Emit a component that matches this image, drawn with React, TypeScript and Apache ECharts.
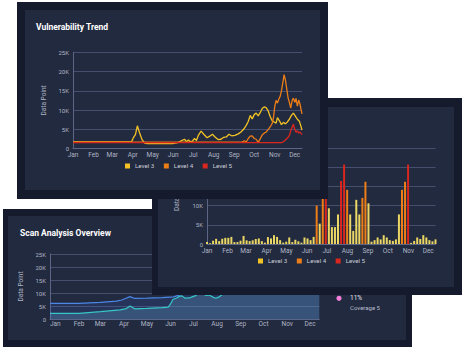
import React, { useEffect, useRef } from "react";
import * as echarts from "echarts";

const FONT = "Roboto, 'Noto Sans', sans-serif";
const BG_OUTER = "#151b2d";
const BG_INNER = "#222a3f";
const AXIS_LINE = "#5b6585";
const GRID_LINE = "#464f6d";
const AXIS_TEXT = "#aeb4c4";
const LEGEND_TEXT = "#c9cdd8";

const MONTHS = ["Jan", "Feb", "Mar", "Apr", "May", "Jun", "Jul", "Aug", "Sep", "Oct", "Nov", "Dec"];
const MONTH_START_DAYS = [0, 31, 59, 90, 120, 151, 181, 212, 243, 273, 304, 334];
const LAST_DAY = 345;

const LEVELS = ["Level 3", "Level 4", "Level 5"];
const LEVEL_COLORS = ["#f3c224", "#ec7d17", "#d9261f"];
const LEVEL3_BAR_COLOR = "#ead764";

// Panel 1: Vulnerability Trend — [day of year, value in K]
const TREND_LEVEL3: [number, number][] = [
  [0, 1.7], [88, 1.7], [91, 2.8], [94, 3.6], [97, 5.9], [100, 4.2], [104, 2.3], [108, 1.4], [112, 1.3],
  [150, 1.3], [158, 1.5], [163, 2.0], [168, 2.4], [171, 1.8], [174, 2.2], [177, 1.7], [180, 1.9],
  [183, 2.6], [186, 2.1], [189, 3.5], [193, 4.5], [197, 3.7], [202, 2.8], [206, 3.2], [210, 3.7],
  [214, 3.0], [219, 2.3], [223, 2.4], [227, 2.9], [231, 3.0], [235, 3.7], [239, 3.3], [244, 3.4],
  [249, 3.8], [253, 4.3], [257, 5.0], [261, 6.0], [264, 7.0], [267, 8.6], [270, 7.7], [273, 8.8],
  [276, 9.2], [279, 8.5], [282, 9.3], [285, 10.4], [288, 10.8], [291, 10.6], [294, 9.8], [297, 8.3],
  [300, 7.2], [303, 6.9], [306, 6.6], [308, 8.0], [311, 7.2], [314, 6.2], [317, 6.8], [320, 6.4],
  [323, 6.9], [326, 7.6], [329, 8.6], [332, 9.2], [335, 8.4], [338, 7.6], [341, 7.1], [343, 6.0],
  [345, 4.8],
];
const TREND_LEVEL4: [number, number][] = [
  [0, 1.65], [255, 1.65], [258, 2.0], [261, 1.7], [264, 2.6], [267, 3.2], [270, 3.3], [273, 2.6],
  [276, 2.4], [279, 1.6], [282, 2.5], [285, 3.5], [288, 4.0], [291, 4.3], [294, 4.9], [297, 5.6],
  [300, 6.5], [302, 8.0], [304, 11.0], [306, 12.5], [308, 11.8], [310, 12.8], [312, 13.5],
  [314, 15.0], [316, 17.0], [318, 19.2], [320, 17.8], [322, 15.5], [324, 13.2], [326, 12.0],
  [328, 10.5], [330, 12.4], [332, 13.1], [334, 12.0], [336, 13.0], [338, 11.0], [340, 12.6],
  [342, 11.5], [344, 9.8], [345, 9.0],
];
const TREND_LEVEL5: [number, number][] = [
  [0, 1.55], [315, 1.55], [318, 1.9], [321, 2.4], [324, 2.9], [326, 3.4], [328, 4.6], [330, 5.5],
  [332, 6.3], [334, 5.0], [336, 4.2], [338, 4.6], [340, 4.0], [342, 4.3], [345, 3.6],
];

// Panel 2: bar chart — one bar per slot, value in K and its level
const BAR_VALUES = [
  0.5, 0.2, 0.85, 1.35, 0.75, 1.35, 1.6, 1.6, 1.85, 0.5,
  0.5, 0.85, 2.1, 0.95, 0.75, 0.95, 1.3, 1.45, 0.75, 0.35,
  1.8, 1.45, 2.3, 1.85, 1.0, 0.35, 0.6, 1.7, 0.5, 1.1,
  0.7, 0.35, 1.7, 1.45, 1.0, 1.85,
  10, 5.3, 17, 21, 9.3, 4.4, 4.4, 7.7, 16.4, 20.7, 14.1, 7.7, 3.4, 11.5, 7.7, 12, 16.2, 10.6,
  0.6, 1.0, 1.7, 1.2, 2.3, 1.7, 1.0, 0.8, 1.2,
  7.7, 14.1, 16.2, 20.7,
  0.3, 0.8, 1.7, 1.3, 2.3, 1.7, 1.0, 0.7, 1.2,
];
const BAR_LEVELS = [
  3, 3, 3, 3, 3, 3, 3, 3, 3, 3,
  3, 3, 3, 3, 3, 3, 3, 3, 3, 3,
  3, 3, 3, 3, 3, 3, 3, 3, 3, 3,
  3, 3, 3, 3, 3, 3,
  4, 3, 4, 5, 3, 3, 3, 3, 5, 5, 4, 3, 3, 3, 3, 4, 4, 3,
  3, 3, 3, 3, 3, 3, 3, 3, 3,
  3, 4, 4, 5,
  3, 3, 3, 3, 3, 3, 3, 3, 3,
];
// y tick labels of the bar panel that lie under the trend panel are not shown
const BAR_HIDDEN_TICKS = [15, 20, 25];

// Panel 3: Scan Analysis Overview — [day of year, value in K]
const SCAN_FIRST_DAY = -7;
const SCAN_LAST_DAY = 346;
const SCAN_BLUE: [number, number][] = [
  [-7, 6.0], [31, 6.0], [59, 6.4], [80, 6.9], [87, 7.3], [92, 7.9], [98, 8.6], [104, 7.9],
  [120, 8.0], [140, 8.2], [155, 8.5], [162, 9.2], [170, 10.5], [190, 11.3], [220, 12.0],
  [260, 12.6], [300, 13.2], [346, 13.8],
];
const SCAN_CYAN: [number, number][] = [
  [-7, 2.2], [31, 2.2], [59, 2.8], [85, 3.5], [93, 4.0], [98, 5.0], [104, 3.9], [120, 4.1],
  [140, 4.4], [148, 4.6], [151, 5.8], [154, 7.5], [159, 8.1], [163, 8.8], [166, 8.9], [170, 8.0],
  [176, 8.1], [180, 8.6], [184, 9.0], [188, 9.8], [193, 9.6], [198, 9.1], [202, 9.2], [206, 8.5],
  [210, 8.0], [214, 8.4], [218, 9.2], [222, 10.2], [240, 10.8], [270, 11.2], [300, 11.6], [346, 12.0],
];
const SCAN_LEGEND_PCT = "11%";
const SCAN_LEGEND_NAME = "Coverage 5";

function dayCategories(first: number, last: number): string[] {
  const cats: string[] = [];
  for (let d = first; d <= last; d++) cats.push(String(d));
  return cats;
}

function monthLabel(v: string): string {
  const i = MONTH_START_DAYS.indexOf(Number(v));
  return i >= 0 ? MONTHS[i] : "";
}

function dayAxis(first: number, last: number, margin: number) {
  return {
    type: "category",
    data: dayCategories(first, last),
    boundaryGap: false,
    axisLine: { show: true, lineStyle: { color: AXIS_LINE, width: 1 } },
    axisTick: { show: false },
    splitLine: { show: false },
    axisLabel: {
      color: AXIS_TEXT,
      fontSize: 6.5,
      fontFamily: FONT,
      margin,
      interval: (_i: number, v: string) => MONTH_START_DAYS.includes(Number(v)),
      formatter: monthLabel,
    },
  };
}

function valueAxis(nameGap: number, labelMargin: number, hidden: number[] = []) {
  return {
    type: "value",
    min: 0,
    max: 25,
    interval: 5,
    name: "Data Point",
    nameLocation: "middle",
    nameGap,
    nameRotate: 90,
    nameTextStyle: { color: AXIS_TEXT, fontSize: 6.5, fontFamily: FONT },
    axisLine: { show: true, lineStyle: { color: AXIS_LINE, width: 1 } },
    axisTick: { show: false },
    axisLabel: {
      color: AXIS_TEXT,
      fontSize: 6,
      fontFamily: FONT,
      margin: labelMargin,
      formatter: (v: number) => (hidden.includes(v) ? "" : v === 0 ? "0" : v + "K"),
    },
    splitLine: { lineStyle: { color: GRID_LINE, width: 1 } },
  };
}

function legendFor(top: number, colors: string[]) {
  return {
    left: 100,
    top,
    padding: 0,
    icon: "rect",
    itemWidth: 5,
    itemHeight: 5,
    itemGap: 9.5,
    textStyle: { color: LEGEND_TEXT, fontSize: 6.2, fontFamily: FONT },
    data: LEVELS.map((n, i) => ({ name: n, itemStyle: { color: colors[i] } })),
  };
}

function titleFor(text: string, left: number, top: number) {
  return {
    text,
    left,
    top,
    padding: 0,
    textStyle: { color: "#ffffff", fontSize: 8.5, fontWeight: "bold", fontFamily: FONT },
  };
}

const trendOption = {
  animation: false,
  backgroundColor: BG_INNER,
  title: titleFor("Vulnerability Trend", 11, 12.5),
  legend: legendFor(153, LEVEL_COLORS),
  grid: { left: 48, right: 18, top: 42.3, bottom: 41.5 },
  xAxis: dayAxis(0, LAST_DAY, 3),
  yAxis: valueAxis(26, 4),
  series: [TREND_LEVEL3, TREND_LEVEL4, TREND_LEVEL5].map((d, i) => ({
    name: LEVELS[i],
    type: "line",
    data: d.map(([day, v]) => [day, v]),
    symbol: "none",
    lineStyle: { color: LEVEL_COLORS[i], width: 1.3 },
    itemStyle: { color: LEVEL_COLORS[i] },
  })),
};

const barColors = [LEVEL3_BAR_COLOR, LEVEL_COLORS[1], LEVEL_COLORS[2]];
const barOption = {
  animation: false,
  backgroundColor: BG_INNER,
  legend: legendFor(151, LEVEL_COLORS),
  grid: { left: 49, right: 18.5, top: 41, bottom: 43 },
  xAxis: [
    dayAxis(0, LAST_DAY, 3),
    {
      type: "category",
      data: BAR_VALUES.map((_, i) => "b" + i),
      boundaryGap: false,
      show: false,
    },
  ],
  yAxis: valueAxis(27, 4, BAR_HIDDEN_TICKS),
  series: [3, 4, 5].map((lvl, i) => ({
    name: LEVELS[i],
    type: "bar",
    xAxisIndex: 1,
    barWidth: 2,
    barGap: "-100%",
    itemStyle: { color: barColors[i] },
    data: BAR_VALUES.map((v, j) => (BAR_LEVELS[j] === lvl ? v : "-")),
  })),
};

const scanOption = {
  animation: false,
  backgroundColor: BG_INNER,
  title: titleFor("Scan Analysis Overview", 12, 12.8),
  grid: { left: 42, right: 86.7, top: 38, bottom: 21 },
  xAxis: dayAxis(SCAN_FIRST_DAY, SCAN_LAST_DAY, 1),
  yAxis: valueAxis(22, 4),
  series: [
    {
      type: "line",
      data: SCAN_BLUE.map(([d, v]) => [d - SCAN_FIRST_DAY, v]),
      symbol: "none",
      lineStyle: { color: "#4b86e6", width: 1.2 },
      areaStyle: { color: "rgba(58,98,200,0.28)" },
    },
    {
      type: "line",
      data: SCAN_CYAN.map(([d, v]) => [d - SCAN_FIRST_DAY, v]),
      symbol: "none",
      lineStyle: { color: "#37c6c6", width: 1.2 },
      areaStyle: { color: "rgba(110,170,215,0.38)" },
    },
  ],
  graphic: [
    { type: "circle", shape: { cx: 331, cy: 82.3, r: 2.6 }, style: { fill: "#f47fd9" } },
    {
      type: "text",
      x: 342,
      y: 82.3,
      style: { text: SCAN_LEGEND_PCT, fill: "#e3e6ee", fontSize: 6.5, fontFamily: FONT, verticalAlign: "middle" },
    },
    {
      type: "text",
      x: 342,
      y: 91,
      style: { text: SCAN_LEGEND_NAME, fill: "#b9bece", fontSize: 6, fontFamily: FONT, verticalAlign: "middle" },
    },
  ],
};

type PanelProps = {
  outer: [number, number, number, number];
  inset: [number, number, number, number];
  option: any;
  z: number;
};

function Panel({ outer, inset, option, z }: PanelProps) {
  const ref = useRef<HTMLDivElement>(null);
  useEffect(() => {
    if (!ref.current) return;
    const chart = echarts.init(ref.current, null, { renderer: "svg" });
    chart.setOption(option);
    return () => chart.dispose();
  }, [option]);
  const [l, t, w, h] = outer;
  const [il, it, iw, ih] = inset;
  return (
    <div style={{ position: "absolute", left: l, top: t, width: w, height: h, background: BG_OUTER, zIndex: z }}>
      <div ref={ref} style={{ position: "absolute", left: il, top: it, width: iw, height: ih }} />
    </div>
  );
}

export default function App() {
  return (
    <div
      style={{
        position: "fixed",
        left: 0,
        top: 0,
        width: 465,
        height: 350,
        background: "#ffffff",
        overflow: "hidden",
      }}
    >
      <Panel outer={[3, 209, 409, 138]} inset={[5, 7, 398, 124]} option={scanOption} z={1} />
      <Panel outer={[152, 98, 310, 197]} inset={[6, 9, 296, 180]} option={barOption} z={2} />
      <Panel outer={[17, 2, 311, 197]} inset={[8, 8, 295, 180]} option={trendOption} z={3} />
    </div>
  );
}
